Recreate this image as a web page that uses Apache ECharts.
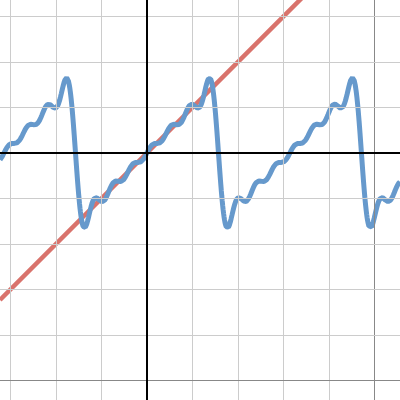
<!DOCTYPE html><html><head><meta charset="utf-8"><script src="https://cdn.jsdelivr.net/npm/echarts@6/dist/echarts.min.js"></script></head><body style="margin:0"><div id="c" style="width:400px;height:400px"></div><script>
const xMin=-3.23,xMax=5.56,yMin=-5.43,yMax=3.36;
const gridXs=[-3,-2,-1,1,2,3,4,5];
const gridYs=[-5,-4,-3,-2,-1,1,2,3];
const termCount=7; // terms in sawtooth partial sum
const sawCoeffs=[];for(let k=1;k<=termCount;k++)sawCoeffs.push((k%2?1:-1)/k);
const saw=[];for(let i=0;i<=900;i++){const x=xMin+(xMax-xMin)*i/900;let y=0;sawCoeffs.forEach((c,j)=>y+=c*Math.sin(2*(j+1)*x));saw.push([x,y]);}
const lineData=[[xMin,xMin],[xMax,xMax]];
const ml=[];
gridXs.forEach(v=>ml.push({xAxis:v,lineStyle:{color:v%5===0?'#888':'#ccc',width:1,type:'solid'}}));
gridYs.forEach(v=>ml.push({yAxis:v,lineStyle:{color:v%5===0?'#888':'#ccc',width:1,type:'solid'}}));
ml.push({xAxis:0,lineStyle:{color:'#000',width:2,type:'solid'}});
ml.push({yAxis:0,lineStyle:{color:'#000',width:2,type:'solid'}});
const ch=echarts.init(document.getElementById('c'));
ch.setOption({animation:false,grid:{left:0,right:0,top:0,bottom:0},
xAxis:{type:'value',min:xMin,max:xMax,show:false},
yAxis:{type:'value',min:yMin,max:yMax,show:false},
series:[{type:'line',data:[],markLine:{silent:true,symbol:'none',label:{show:false},data:ml}},
{type:'line',data:lineData,showSymbol:false,lineStyle:{color:'#d9736c',width:4.5}},
{type:'line',data:saw,showSymbol:false,lineStyle:{color:'#6699cc',width:5}}]});
</script></body></html>
